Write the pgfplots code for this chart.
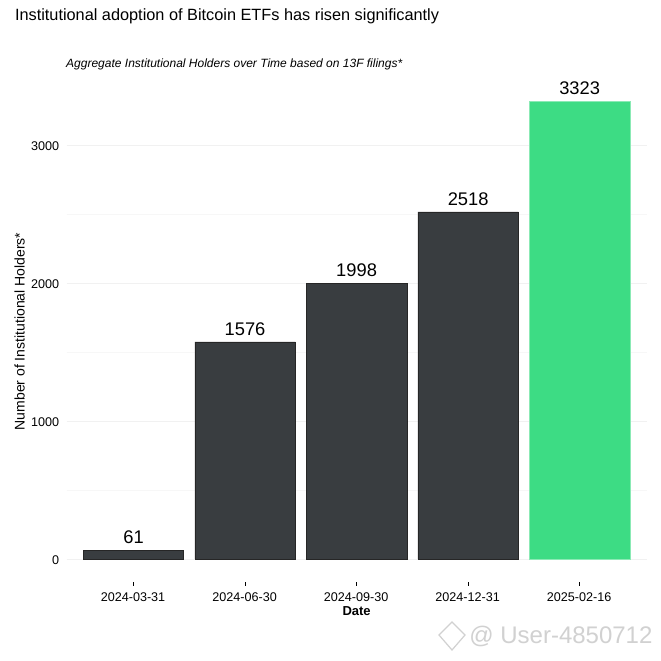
\documentclass[border=0pt]{standalone}
\usepackage{fontspec}
\setmainfont{Liberation Sans}
\usepackage{pgfplots}
\pgfplotsset{compat=1.18}
\definecolor{bardark}{HTML}{393D40}
\definecolor{bargreen}{HTML}{3DDC84}
\definecolor{gridc}{HTML}{F1F1F1}
\begin{document}
\begin{tikzpicture}[x=1pt,y=1pt]
\path[fill=white] (0,0) rectangle (661,661);
\begin{axis}[
    at={(66.6pt,79pt)}, anchor=south west,
    scale only axis, width=580pt, height=504pt,
    xmin=-0.6, xmax=4.6, ymin=-166, ymax=3489,
    axis line style={draw=none},
    /pgf/number format/assume math mode=true,
    /pgf/number format/1000 sep={},
    xtick={0,1,2,3,4},
    xticklabels={2024-03-31,2024-06-30,2024-09-30,2024-12-31,2025-02-16},
    ytick={0,1000,2000,3000},
    minor ytick={500,1500,2500},
    tick label style={font=\fontsize{12.6}{14}\selectfont},
    ymajorgrids, yminorgrids,
    major grid style={gridc,line width=0.7pt},
    minor grid style={gridc!60,line width=0.5pt},
    xtick style={black,line width=0.5pt},
    tick align=outside,
    major tick length=4pt,
    ytick style={draw=none}, minor tick length=0pt,
    xtick pos=bottom, ytick pos=left,
    xticklabel style={yshift=-3pt,xshift=-0.5pt},
    yticklabel style={yshift=-1pt},
    xlabel={Date},
    xlabel style={font=\bfseries\fontsize{13}{14}\selectfont,yshift=2pt},
    ylabel={Number of Institutional Holders*},
    ylabel style={font=\fontsize{14}{15}\selectfont,at={(axis description cs:-0.066,0.497)},anchor=south},
    ybar, bar shift=0pt, bar width=0.9,
    nodes near coords,
    nodes near coords style={font=\fontsize{18.3}{20}\selectfont,black,yshift=3pt},
    clip=false,
]
\addplot[fill=bardark,draw=black!85,line width=0.5pt] coordinates {(0,61) (1,1576) (2,1998) (3,2518)};
\addplot[fill=bargreen,draw=bargreen!60!white,line width=0.5pt] coordinates {(4,3323)};
\end{axis}
\node[anchor=base west,font=\fontsize{16.3}{18}\selectfont] at (11.5,661-21) {Institutional adoption of Bitcoin ETFs has risen significantly};
\node[anchor=base west,font=\itshape\fontsize{12}{13}\selectfont] at (62.7,661-68) {Aggregate Institutional Holders over Time based on 13F filings*};
\node[anchor=base east,font=\fontsize{24}{26}\selectfont,text=black!18] at (656,661-644) {@ User-4850712};
\draw[black!18,line width=1.2pt] (452,661-622) -- (465,661-635) -- (452,661-650) -- (439,661-635) -- cycle;
\end{tikzpicture}
\end{document}
